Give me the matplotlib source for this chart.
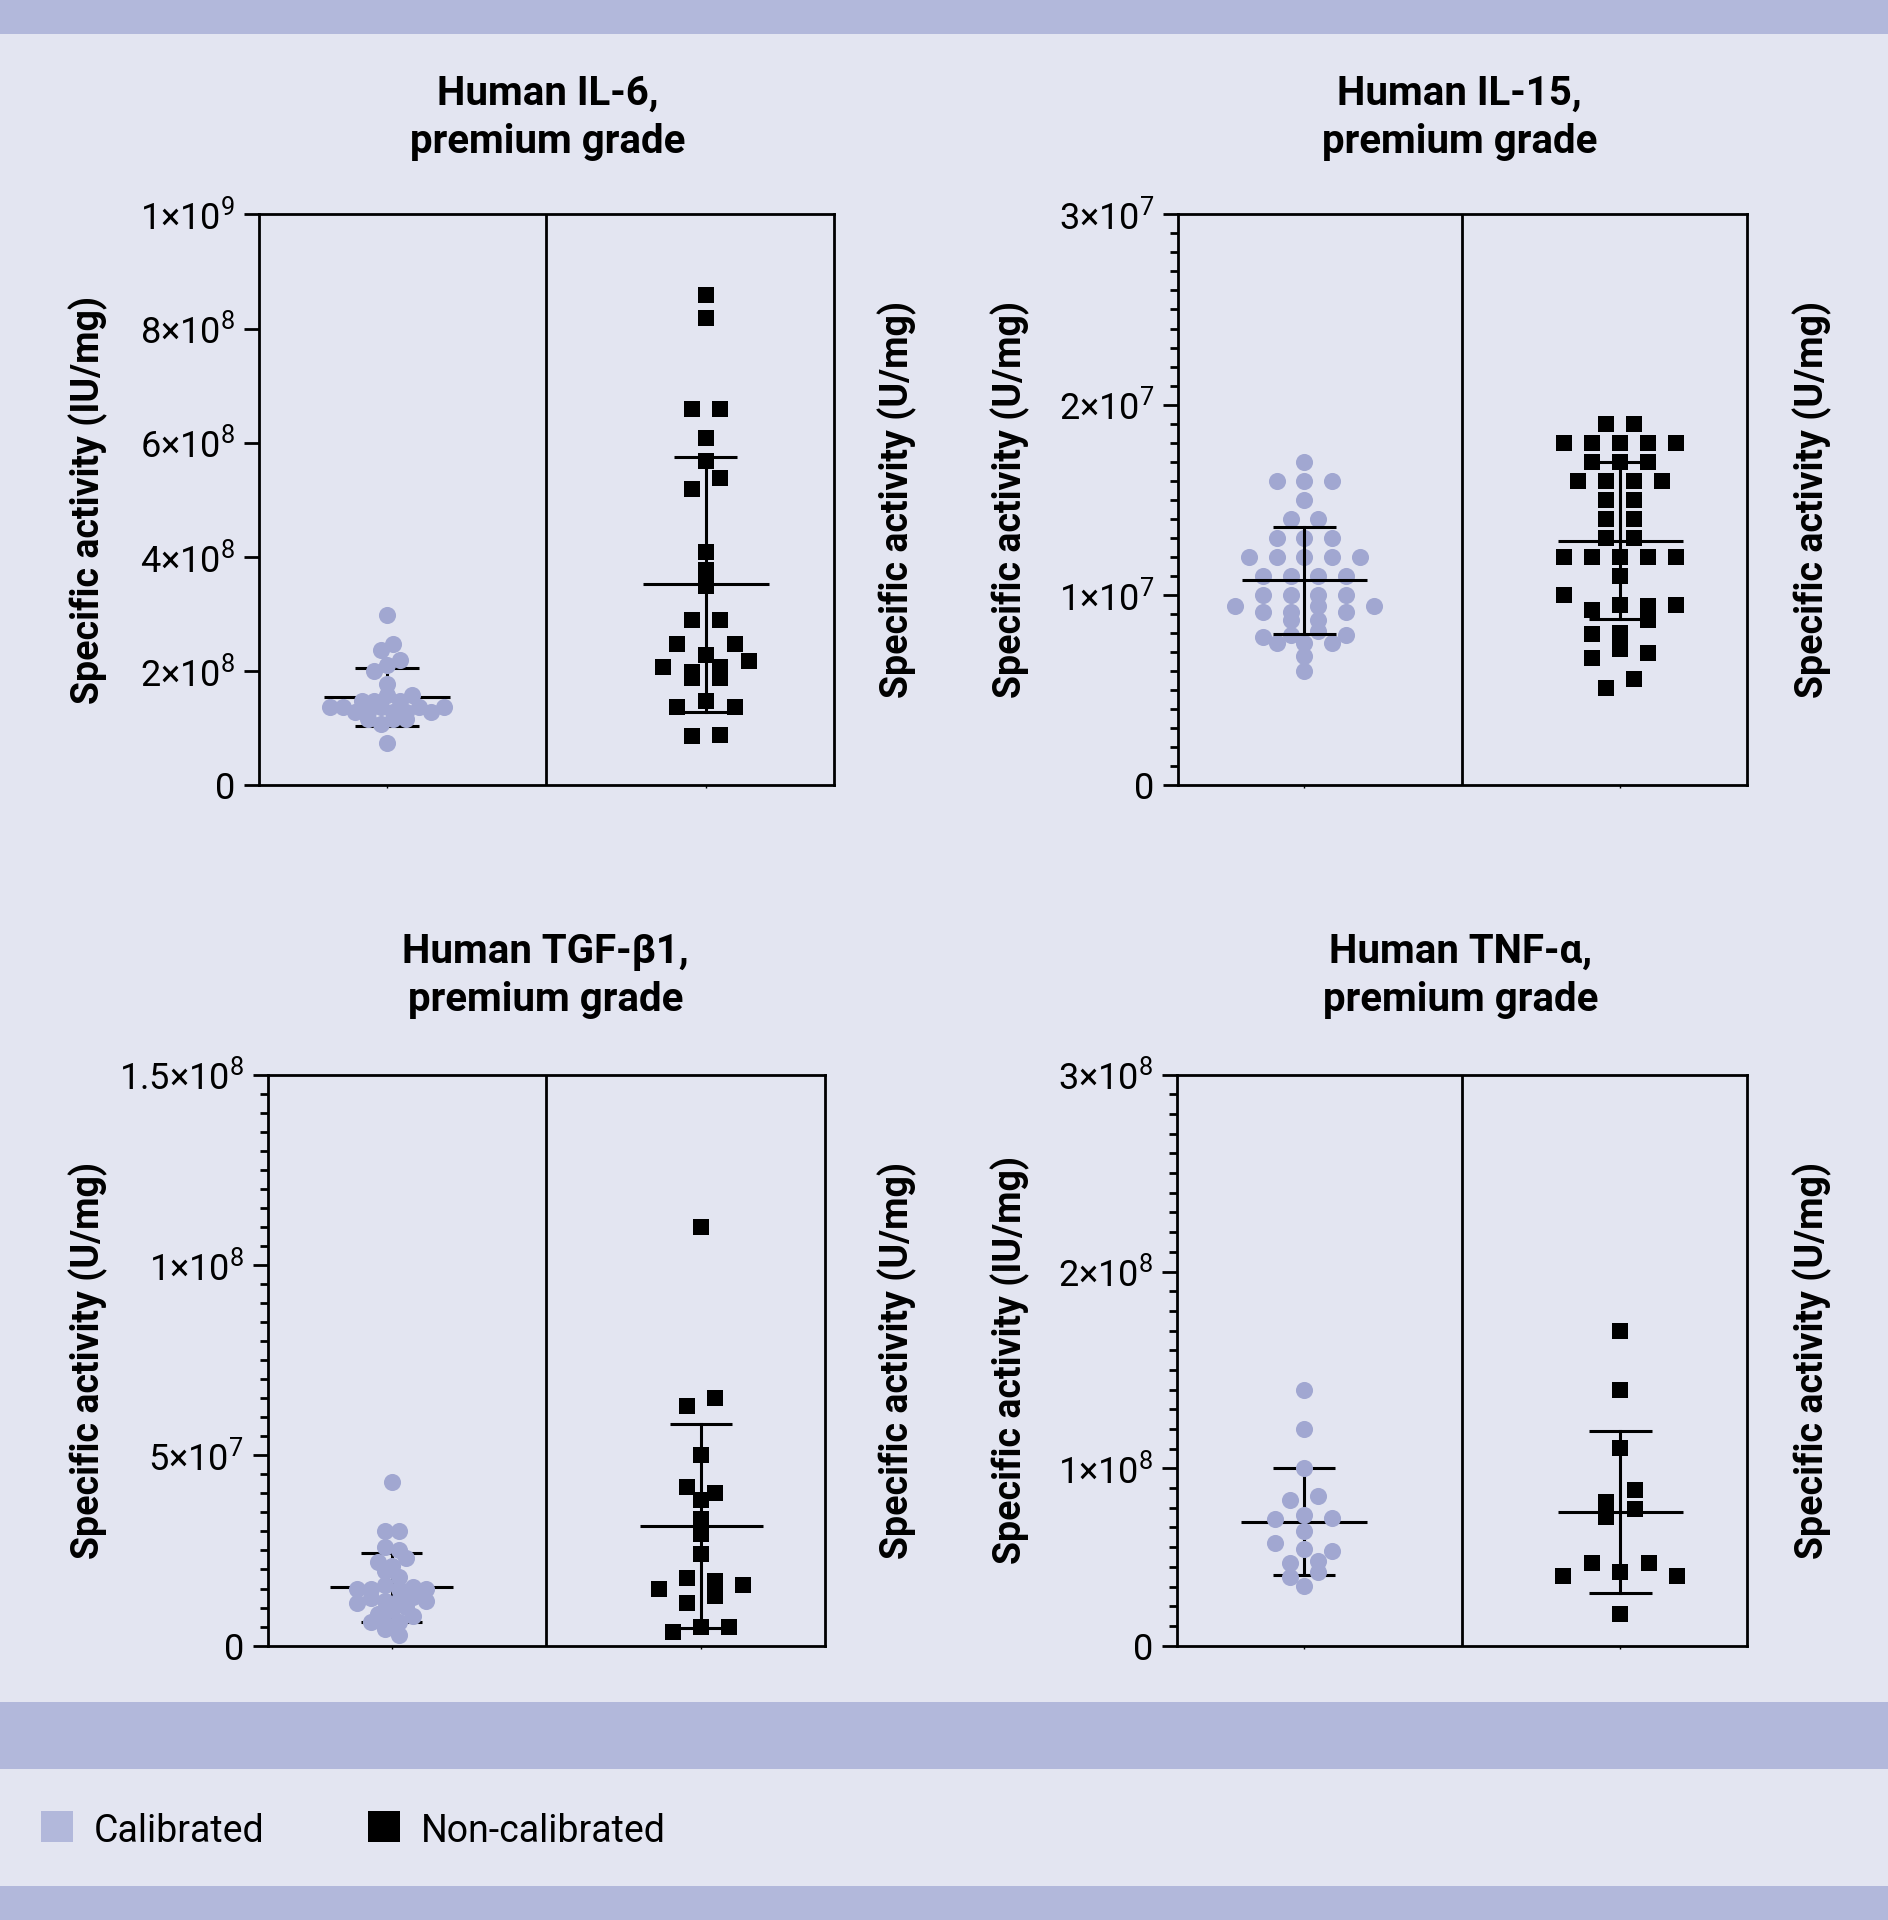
import numpy as np
import matplotlib
matplotlib.use("Agg")
import matplotlib.pyplot as plt
from matplotlib.patches import Rectangle

plt.rcParams['font.family'] = ['Roboto', 'DejaVu Sans']
plt.rcParams['mathtext.default'] = 'regular'

BG   = '#E3E5F1'
BAND = '#B2B8DB'
DOT  = '#A1A7D1'

###############################################################################
# data ########################################################################
il6_cal = np.array([2.98, 2.38, 2.48, 2.00, 2.11, 2.19, 1.78, 1.48, 1.48, 1.58, 1.48, 1.58,
                    1.38, 1.38, 1.28, 1.28, 1.38, 1.28, 1.28, 1.38, 1.28, 1.38,
                    1.17, 1.07, 1.17, 1.17, 0.75]) * 1e8
il6_non = np.array([8.59, 8.19, 6.59, 6.59, 6.09, 5.68, 5.19, 5.39, 4.08, 3.78, 3.49, 2.89, 2.89,
                    2.48, 2.28, 2.48, 2.08, 1.98, 2.08, 2.18, 1.88, 1.88, 1.38, 1.48, 1.38,
                    0.86, 0.89]) * 1e8
il6_mean = [1.55e8, 3.52e8]
il6_sd   = [0.505e8, 2.225e8]

il15_cal = np.array([17, 16, 16, 16, 15, 14, 14, 13, 13, 13, 12, 12, 12, 12, 12,
                     11, 11, 11, 11, 10, 10, 10, 10, 9.4, 9.1, 9.1, 9.4, 9.1, 9.4,
                     8.7, 8.7, 7.8, 7.9, 8.1, 7.9, 7.5, 7.5, 7.5, 6.8, 6.0]) * 1e6
il15_non = np.array([19, 19, 18, 18, 18, 18, 18, 17, 17, 17, 16, 16, 16, 16, 15, 15,
                     14, 14, 13, 13, 12, 12, 12, 12, 12, 11, 10, 9.2, 9.5, 9.4, 9.5,
                     7.95, 8.0, 8.7, 6.7, 7.15, 6.95, 5.1, 5.6]) * 1e6
il15_mean = [1.077e7, 1.286e7]
il15_sd   = [0.281e7, 0.4135e7]

tgf_cal = np.array([43, 30, 30, 26, 25, 22, 21, 23, 19.5, 18,
                    15, 15, 16, 15, 15.5, 15, 11.2, 12.4, 11.6, 12.0, 12.8, 11.8,
                    8.3, 9.3, 10.2, 6.3, 5.8, 6.3, 7.7, 4.3, 2.8]) * 1e6
tgf_non = np.array([110, 63, 65, 50, 41.8, 40, 38.3, 33.2, 29.2, 24,
                    14.8, 17.8, 16.9, 15.9, 11.1, 13.1, 3.5, 5.0, 5.0]) * 1e6
tgf_mean = [1.53e7, 3.14e7]
tgf_sd   = [0.905e7, 2.675e7]

tnf_cal = np.array([140, 120, 100, 84.1, 86, 74.4, 76.4, 75, 68.2, 62.2, 59.3, 57.9,
                    52.1, 53.1, 45, 47.3, 40.1]) * 1e6
tnf_non = np.array([170, 140, 110.3, 83.1, 89, 75.4, 79.3, 45.3, 52.1, 47.3, 52.1, 45.3,
                    26.3]) * 1e6
tnf_mean = [7.3e7, 7.8e7]
tnf_sd   = [2.71e7, 4.12e7]

titles = ['Human IL-6,\npremium grade', 'Human IL-15,\npremium grade',
          'Human TGF-β1,\npremium grade', 'Human TNF-α,\npremium grade']
left_labels  = ['Specific activity (IU/mg)', 'Specific activity (U/mg)',
                'Specific activity (U/mg)', 'Specific activity (IU/mg)']
right_labels = ['Specific activity (U/mg)'] * 4

il6_ticks  = [0, 2e8, 4e8, 6e8, 8e8, 1e9]
il6_tlab   = ['0', '2×10$^{8}$', '4×10$^{8}$', '6×10$^{8}$', '8×10$^{8}$', '1×10$^{9}$']
il15_ticks = [0, 1e7, 2e7, 3e7]
il15_tlab  = ['0', '1×10$^{7}$', '2×10$^{7}$', '3×10$^{7}$']
tgf_ticks  = [0, 5e7, 1e8, 1.5e8]
tgf_tlab   = ['0', '5×10$^{7}$', '1×10$^{8}$', '1.5×10$^{8}$']
tnf_ticks  = [1e7, 1e8, 2e8, 3e8]
tnf_tlab   = ['0', '1×10$^{8}$', '2×10$^{8}$', '3×10$^{8}$']

legend_labels = ['Calibrated', 'Non-calibrated']

###############################################################################
# helpers #####################################################################
def row_offsets(values, bin_size, step):
    # group values in rows (top down), spread each row symmetrically
    order = sorted(range(len(values)), key=lambda i: -values[i])
    rows = []
    for i in order:
        if rows and rows[-1][0] - values[i] <= bin_size:
            rows[-1][1].append(i)
        else:
            rows.append([values[i], [i]])
    xs = np.zeros(len(values))
    for _, idx in rows:
        idx.sort()
        n = len(idx)
        for k, i in enumerate(idx):
            xs[i] = (k - (n - 1) / 2) * step
    return xs

XC = [0.445, 1.555]
LW = 2.0

def panel(rect, cal, non, means, sds, ylim, ticks, tlabels, minor, bins, steps, lines_on_top=False):
    ax = fig.add_axes(rect)
    ax.set_facecolor(BG)
    ax.set_xlim(0, 2)
    ax.set_ylim(*ylim)
    for s in ax.spines.values():
        s.set_linewidth(LW)
        s.set_color('black')
    ax.axvline(1, color='black', lw=LW)
    pz, lz = (3, 4) if lines_on_top else (4, 3)
    ax.plot(XC[0] + row_offsets(cal, bins[0], steps[0]), cal, 'o', ms=12.3, color=DOT,
            mew=0, zorder=pz, clip_on=False)
    ax.plot(XC[1] + row_offsets(non, bins[1], steps[1]), non, 's', ms=11.5, color='black',
            mew=0, zorder=pz, clip_on=False)
    for xc, m, sd in zip(XC, means, sds):
        ax.plot([xc - 0.22, xc + 0.22], [m, m], color='black', lw=2.2, zorder=lz, solid_capstyle='butt')
        ax.plot([xc, xc], [m - sd, m + sd], color='black', lw=2.2, zorder=lz)
        for yy in (m - sd, m + sd):
            ax.plot([xc - 0.11, xc + 0.11], [yy, yy], color='black', lw=2.2, zorder=lz, solid_capstyle='butt')
    ax.set_yticks(ticks)
    ax.set_yticklabels(tlabels, fontsize=26)
    if minor is not None:
        ax.set_yticks(minor, minor=True)
    ax.tick_params(axis='y', which='major', length=11, width=LW, pad=6)
    ax.tick_params(axis='y', which='minor', length=5.5, width=LW)
    ax.set_xticks(XC)
    ax.set_xticklabels([])
    ax.tick_params(axis='x', length=2, width=1)
    return ax

###############################################################################
# figure ######################################################################
fig = plt.figure(figsize=(18.88, 19.2), dpi=100, facecolor=BG)

for y0, h in [(0.9823, 0.0177), (0.0786, 0.0352), (0.0, 0.0179)]:
    fig.patches.append(Rectangle((0, y0), 1, h, transform=fig.transFigure,
                                 facecolor=BAND, edgecolor='none', zorder=0))

rects = [[0.1372, 0.5909, 0.3044, 0.2975], [0.6239, 0.5909, 0.3012, 0.2975],
         [0.1417, 0.1429, 0.2954, 0.2974], [0.6235, 0.1429, 0.3019, 0.2974]]

panel(rects[0], il6_cal, il6_non, il6_mean, il6_sd, (0, 1e9), il6_ticks, il6_tlab, None,
      (0.195e8, 0.21e8), (0.044, 0.1))
panel(rects[1], il15_cal, il15_non, il15_mean, il15_sd, (0, 3e7), il15_ticks, il15_tlab,
      np.arange(1e6, 3e7, 1e6), (0.5e6, 0.9e6), (0.098, 0.098), lines_on_top=True)
panel(rects[2], tgf_cal, tgf_non, tgf_mean, tgf_sd, (0, 1.5e8), tgf_ticks, tgf_tlab,
      np.arange(5e6, 1.5e8, 5e6), (2.05e6, 3.1e6), (0.05, 0.1))
panel(rects[3], tnf_cal, tnf_non, tnf_mean, tnf_sd, (1e7, 3e8), tnf_ticks, tnf_tlab,
      np.arange(2e7, 3e8, 1e7), (4.5e6, 7.5e6), (0.1, 0.1))

title_pos = [(0.290, 0.9385), (0.773, 0.9385), (0.289, 0.4917), (0.7737, 0.4917)]
for (x, y), t in zip(title_pos, titles):
    fig.text(x, y, t, ha='center', va='center', fontsize=29, fontweight='bold', linespacing=1.32)

left_x  = [0.0466, 0.535, 0.0466, 0.535]
right_x = [0.4754, 0.960, 0.4754, 0.960]
ycen    = [0.7397, 0.7397, 0.2916, 0.2916]
for i in range(4):
    fig.text(left_x[i], ycen[i], left_labels[i], rotation=90, ha='center', va='center',
             fontsize=27, fontweight='bold')
    fig.text(right_x[i], ycen[i], right_labels[i], rotation=90, ha='center', va='center',
             fontsize=27, fontweight='bold')

# legend
for x_sq, x_txt, col, lab in [(0.0217, 0.0498, BAND, legend_labels[0]),
                              (0.1949, 0.2230, 'black', legend_labels[1])]:
    fig.patches.append(Rectangle((x_sq, 0.0406), 0.01695, 0.0163, transform=fig.transFigure,
                                 facecolor=col, edgecolor='none'))
    fig.text(x_txt, 0.0406, lab, ha='left', va='baseline', fontsize=27)

fig.savefig('out.png', dpi=100, facecolor=BG)
